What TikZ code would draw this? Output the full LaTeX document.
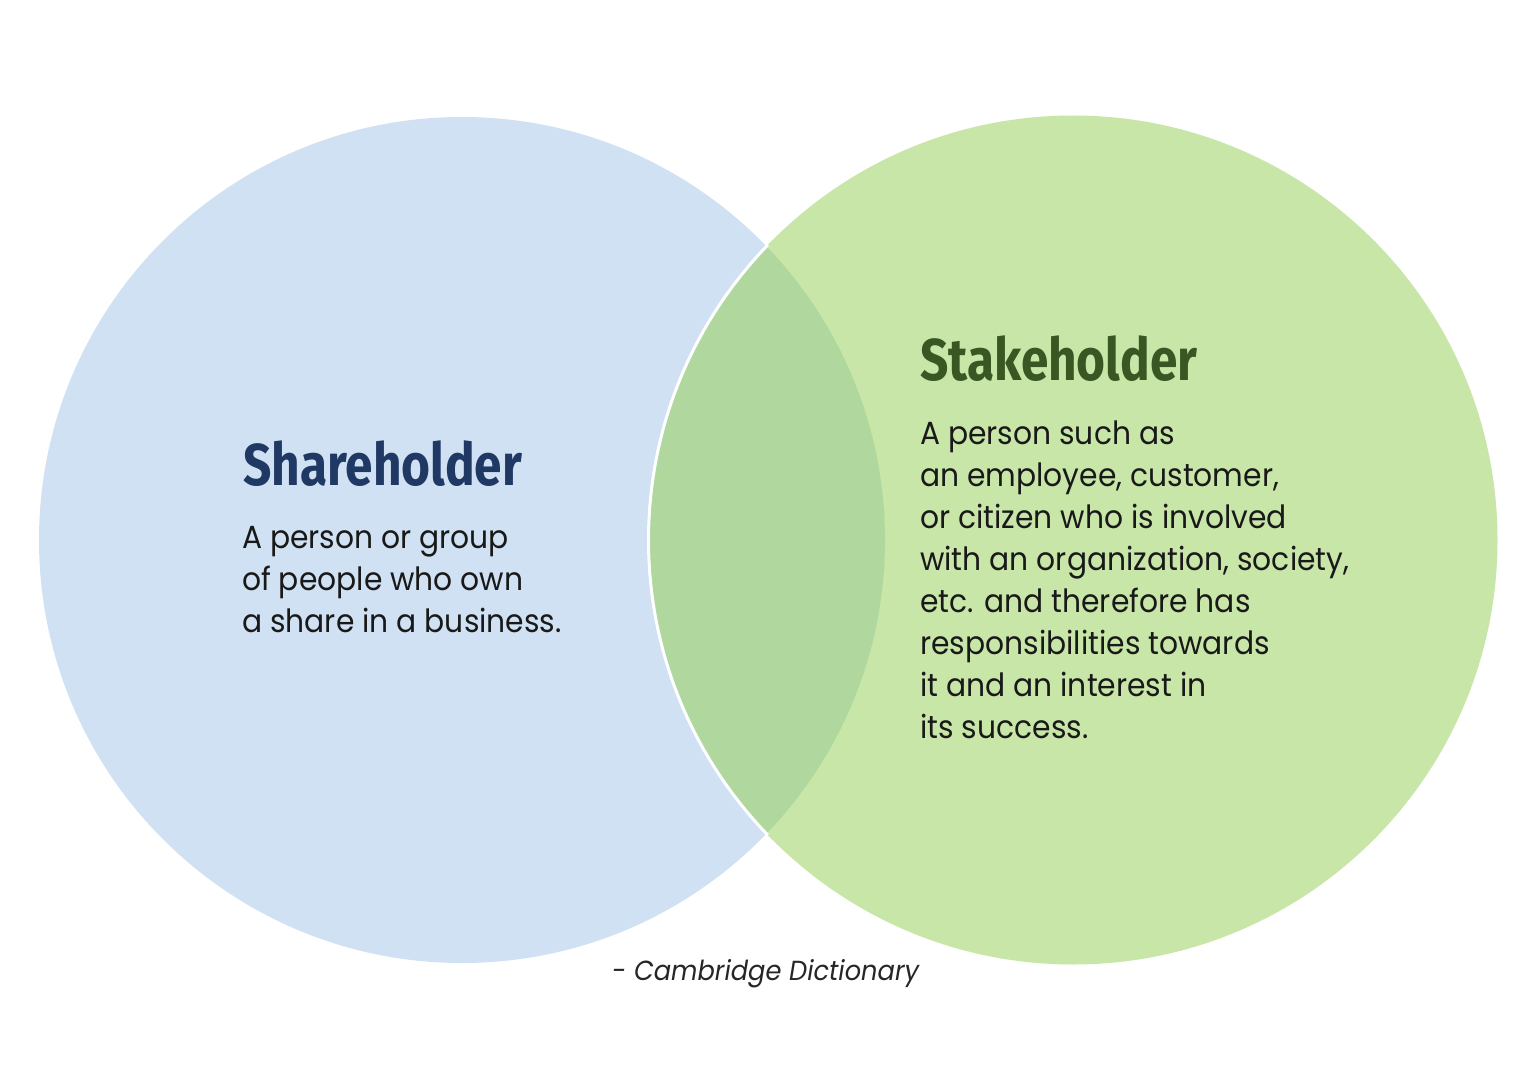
\documentclass[tikz,border=0pt]{standalone}
\usepackage{fontspec}
\setmainfont[FakeStretch=0.93]{Poppins}
\newfontfamily\headfont[FakeStretch=0.84]{Fira Sans}
\definecolor{shblue}{RGB}{207,225,242}
\definecolor{stgreen}{RGB}{200,230,167}
\definecolor{overlapgreen}{RGB}{176,216,158}
\definecolor{shtitlecol}{RGB}{31,56,100}
\definecolor{sttitlecol}{RGB}{56,87,35}
\tikzset{
  headtext/.style={anchor=base west, inner sep=0pt, font=\headfont\bfseries\fontsize{59}{62}\selectfont},
  bodytext/.style={anchor=base west, inner sep=0pt, align=left, text=black!90, font=\fontsize{32}{42}\selectfont},
  sourcetext/.style={anchor=base west, inner sep=0pt, text=black!85, font=\itshape\fontsize{27.6}{30}\selectfont}
}
\begin{document}
\begin{tikzpicture}[x=1pt,y=-1pt]
\useasboundingbox (0,0) rectangle (1536,1078);
\fill[white] (0,0) rectangle (1536,1078);
\fill[shblue] (462,540) circle [radius=423pt];
\fill[stgreen] (1073,540) circle [radius=424.5pt];
\begin{scope}
  \clip (462,540) circle [radius=423pt];
  \fill[overlapgreen] (1073,540) circle [radius=424.5pt];
\end{scope}
\begin{scope}
  \clip (462,540) circle [radius=425pt];
  \draw[white, line width=3pt] (1073,540) circle [radius=424.5pt];
\end{scope}

\node[headtext, text=shtitlecol] (shtitle) at (243,485) {Shareholder};
\node[bodytext] (shtext) at (242,632) {A person or group\\of people who own\\a share in a business.};

\node[headtext, text=sttitlecol] (sttitle) at (920,380) {Stakeholder};
\node[bodytext] (sttext) at (920,738) {A person such as\\an employee, customer,\\or citizen who is involved\\with an organization, society,\\etc. and therefore has\\responsibilities towards\\it and an interest in\\its success.};

\node[sourcetext] (source) at (612,980) {- Cambridge Dictionary};
\end{tikzpicture}
\end{document}
